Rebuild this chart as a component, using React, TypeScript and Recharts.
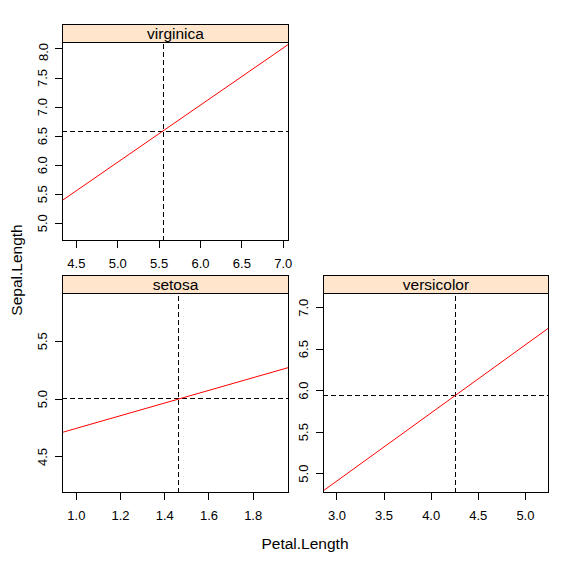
import React from "react";
import { LineChart, Line, XAxis, YAxis, ReferenceLine } from "recharts";

// fitted Sepal.Length at the ends of each Petal.Length range
const virginicaPetal = [4.326, 7.069];
const virginicaSepal = [5.39, 8.086];
const setosaPetal = [0.935, 1.962];
const setosaSepal = [4.712, 5.274];
const versicolorPetal = [2.852, 5.25];
const versicolorSepal = [4.79, 6.758];

// mean of each species (dashed crosshair)
const meanPetal = [5.552, 1.462, 4.26];
const meanSepal = [6.588, 5.006, 5.936];

// y ranges of the panels
const virginicaYRange = [4.695, 8.103];
const setosaYRange = [4.189, 5.908];
const versicolorYRange = [4.766, 7.165];

const virginicaXTicks = [4.5, 5.0, 5.5, 6.0, 6.5, 7.0];
const virginicaYTicks = [5.0, 5.5, 6.0, 6.5, 7.0, 7.5, 8.0];
const setosaXTicks = [1.0, 1.2, 1.4, 1.6, 1.8];
const setosaYTicks = [4.5, 5.0, 5.5];
const versicolorXTicks = [3.0, 3.5, 4.0, 4.5, 5.0];
const versicolorYTicks = [5.0, 5.5, 6.0, 6.5, 7.0];

const FONT = "Liberation Sans, Arial, sans-serif";
const LEFT_PAD = 40;
const RIGHT_PAD = 14;
const BOTTOM_PAD = 32;

const XTick = ({ x, y, payload }: any) => (
  <text
    x={x}
    y={y + 15}
    textAnchor="middle"
    dominantBaseline="central"
    fontSize={13}
    fontFamily={FONT}
    fill="#000"
  >
    {Number(payload.value).toFixed(1)}
  </text>
);

const YTick = ({ x, y, payload }: any) => {
  const cx = x - 12;
  return (
    <text
      x={cx}
      y={y}
      transform={`rotate(-90 ${cx} ${y})`}
      textAnchor="middle"
      dominantBaseline="central"
      fontSize={13}
      fontFamily={FONT}
      fill="#000"
    >
      {Number(payload.value).toFixed(1)}
    </text>
  );
};

interface PanelProps {
  name: string;
  left: number;
  top: number;
  width: number;
  height: number;
  petal: number[];
  sepal: number[];
  yRange: number[];
  xTicks: number[];
  yTicks: number[];
  meanX: number;
  meanY: number;
}

function Panel(p: PanelProps) {
  const data = p.petal.map((v, i) => ({ petal: v, sepal: p.sepal[i] }));
  return (
    <>
      <div
        style={{
          position: "absolute",
          left: p.left,
          top: p.top - 19,
          width: p.width,
          height: 19,
          boxSizing: "border-box",
          border: "1px solid #000",
          background: "#ffe5cc",
          fontFamily: FONT,
          fontSize: 15.5,
          lineHeight: "17px",
          textAlign: "center",
        }}
      >
        {p.name}
      </div>
      <div style={{ position: "absolute", left: p.left - LEFT_PAD, top: p.top }}>
        <LineChart
          width={p.width + LEFT_PAD + RIGHT_PAD}
          height={p.height + BOTTOM_PAD}
          data={data}
          margin={{ top: 0, right: RIGHT_PAD, bottom: 0, left: 0 }}
        >
          <XAxis
            dataKey="petal"
            type="number"
            domain={[p.petal[0], p.petal[1]]}
            ticks={p.xTicks}
            allowDataOverflow
            tick={<XTick />}
            tickSize={7}
            tickMargin={0}
            height={BOTTOM_PAD}
            axisLine={false}
            tickLine={{ stroke: "#000", shapeRendering: "crispEdges" }}
          />
          <YAxis
            type="number"
            domain={p.yRange}
            ticks={p.yTicks}
            allowDataOverflow
            tick={<YTick />}
            tickSize={7}
            tickMargin={0}
            width={LEFT_PAD}
            axisLine={false}
            tickLine={{ stroke: "#000", shapeRendering: "crispEdges" }}
          />
          <ReferenceLine
            x={p.meanX}
            stroke="#000"
            strokeDasharray="5 3"
            shapeRendering="crispEdges"
          />
          <ReferenceLine
            y={p.meanY}
            stroke="#000"
            strokeDasharray="5 3"
            shapeRendering="crispEdges"
          />
          <Line
            dataKey="sepal"
            stroke="#ff0000"
            strokeWidth={1}
            dot={false}
            activeDot={false}
            isAnimationActive={false}
          />
        </LineChart>
      </div>
      <div
        style={{
          position: "absolute",
          left: p.left,
          top: p.top - 1,
          width: p.width,
          height: p.height + 1,
          boxSizing: "border-box",
          border: "1px solid #000",
          pointerEvents: "none",
        }}
      />
    </>
  );
}

export default function App() {
  return (
    <div
      style={{
        position: "absolute",
        left: 0,
        top: 0,
        width: 565,
        height: 564,
        background: "#fff",
        fontFamily: FONT,
      }}
    >
      <Panel
        name="virginica"
        left={62}
        top={43}
        width={227}
        height={198}
        petal={virginicaPetal}
        sepal={virginicaSepal}
        yRange={virginicaYRange}
        xTicks={virginicaXTicks}
        yTicks={virginicaYTicks}
        meanX={meanPetal[0]}
        meanY={meanSepal[0]}
      />
      <Panel
        name="setosa"
        left={62}
        top={294}
        width={227}
        height={199}
        petal={setosaPetal}
        sepal={setosaSepal}
        yRange={setosaYRange}
        xTicks={setosaXTicks}
        yTicks={setosaYTicks}
        meanX={meanPetal[1]}
        meanY={meanSepal[1]}
      />
      <Panel
        name="versicolor"
        left={323}
        top={294}
        width={226}
        height={199}
        petal={versicolorPetal}
        sepal={versicolorSepal}
        yRange={versicolorYRange}
        xTicks={versicolorXTicks}
        yTicks={versicolorYTicks}
        meanX={meanPetal[2]}
        meanY={meanSepal[2]}
      />
      <div
        style={{
          position: "absolute",
          left: 17,
          top: 270,
          transform: "translate(-50%, -50%) rotate(-90deg)",
          fontSize: 15.5,
          whiteSpace: "nowrap",
        }}
      >
        Sepal.Length
      </div>
      <div
        style={{
          position: "absolute",
          left: 305,
          top: 544,
          transform: "translate(-50%, -50%)",
          fontSize: 15.5,
          whiteSpace: "nowrap",
        }}
      >
        Petal.Length
      </div>
    </div>
  );
}
